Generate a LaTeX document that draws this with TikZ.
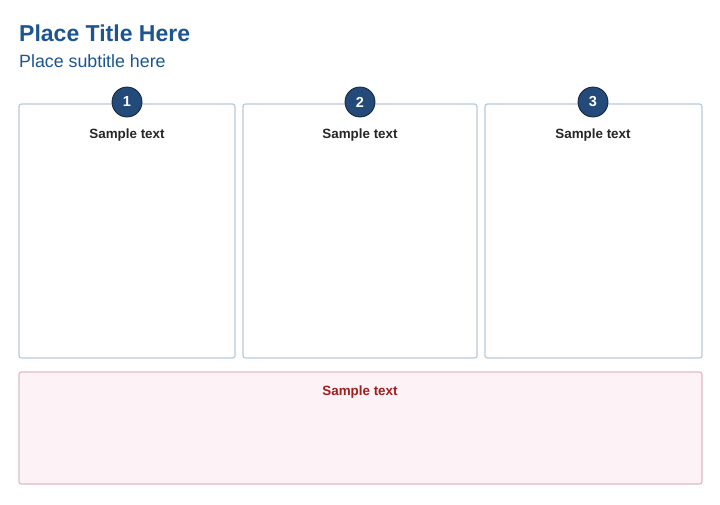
\documentclass[tikz,border=0pt]{standalone}
\usepackage{fontspec}
\setmainfont{Liberation Sans}
\definecolor{titleblue}{HTML}{1C5591}
\definecolor{boxline}{HTML}{B8CADB}
\definecolor{circfill}{HTML}{244A7A}
\definecolor{circline}{HTML}{10223A}
\definecolor{pinkfill}{HTML}{FDF3F7}
\definecolor{pinkline}{HTML}{E0BAC6}
\definecolor{darkred}{HTML}{9E1F1F}
\begin{document}
\begin{tikzpicture}[x=1pt,y=-1pt,
  card/.style={draw=boxline,line width=1.2pt,rounded corners=2.5pt,fill=white},
  notebox/.style={draw=pinkline,line width=1.2pt,rounded corners=2.5pt,fill=pinkfill},
  badge/.style={circle,draw=circline,line width=0.8pt,fill=circfill,minimum size=30pt,inner sep=0pt,text=white,font=\bfseries\fontsize{14.5}{16}\selectfont},
  cardtext/.style={anchor=base,font=\bfseries\fontsize{13.4}{16}\selectfont,text=black!85},
  notetext/.style={anchor=base,font=\bfseries\fontsize{13.4}{16}\selectfont,text=darkred}]
\useasboundingbox (0,0) rectangle (720,504);
\fill[white] (0,0) rectangle (720,504);
\node[anchor=base west,inner sep=0pt,text=titleblue,font=\bfseries\fontsize{23}{27}\selectfont] (title) at (19,41) {Place Title Here};
\node[anchor=base west,inner sep=0pt,text=titleblue,font=\fontsize{17.8}{21}\selectfont] (subtitle) at (19,67) {Place subtitle here};
\draw[card] (19,104) rectangle (235,358);
\draw[card] (243,104) rectangle (477,358);
\draw[card] (485,104) rectangle (702,358);
\node[badge] (b1) at (127,102) {1};
\node[badge] (b2) at (360,102) {2};
\node[badge] (b3) at (593,102) {3};
\node[cardtext] (t1) at (127,138) {Sample text};
\node[cardtext] (t2) at (360,138) {Sample text};
\node[cardtext] (t3) at (593,138) {Sample text};
\draw[notebox] (19,372) rectangle (702,484);
\node[notetext] (t4) at (360,395) {Sample text};
\end{tikzpicture}
\end{document}
